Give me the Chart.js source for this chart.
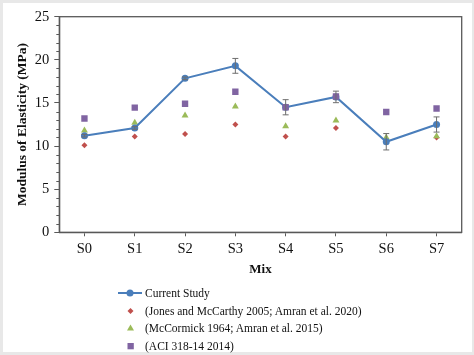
<!DOCTYPE html>
<html>
<head>
<meta charset="utf-8">
<script src="https://cdn.jsdelivr.net/npm/chart.js@4.4.0/dist/chart.umd.min.js"></script>
<style>
  html, body { margin:0; padding:0; background:#e8e8e8; width:474px; height:355px; overflow:hidden; }
  #wrap { position:absolute; left:3px; top:3px; width:469px; height:349px; background:#fff; }
  #c { position:absolute; left:0; top:0; }
  .lg { position:absolute; left:0; top:0; font-family:"Liberation Serif", serif; font-size:11.5px; color:#111; }
  .row { position:absolute; left:0; height:16px; line-height:16px; white-space:nowrap; }
  .row span.t { position:absolute; left:27px; top:0; }
  .ic { position:absolute; }
</style>
</head>
<body>
<div id="wrap">
  <canvas id="c" width="469" height="349"></canvas>
  <div class="lg" id="legend"></div>
</div>
<script>
const categories = ['S0','S1','S2','S3','S4','S5','S6','S7'];
const currentStudy = [11.2, 12.1, 17.85, 19.3, 14.5, 15.7, 10.5, 12.5];
const currentStudyErr = [0.15, 0.15, 0.15, 0.86, 0.88, 0.67, 0.95, 0.88];
const jonesMcCarthy = [10.1, 11.1, 11.4, 12.5, 11.1, 12.1, 10.6, 11.0];
const mcCormick = [11.8, 12.7, 13.55, 14.6, 12.3, 12.95, 11.0, 11.15];
const aci318 = [13.2, 14.45, 14.9, 16.3, 14.5, 15.75, 13.95, 14.35];
const seriesNames = ['Current Study', '(Jones and McCarthy 2005; Amran et al. 2020)', '(McCormick 1964; Amran et al. 2015)', '(ACI 318-14 2014)'];
const yTickValues = [0, 5, 10, 15, 20, 25];

const BLUE = '#4a7ebb', RED = '#c0504d', GREEN = '#9bbb59', PURPLE = '#8064a2', AXIS = '#595959';
const FONT = '"Liberation Serif", serif';

const framePlugin = {
  id: 'frame',
  beforeDatasetsDraw(chart) {
    const {ctx, chartArea: a, scales} = chart;
    ctx.save();
    ctx.strokeStyle = AXIS; ctx.lineWidth = 1.3;
    ctx.strokeRect(a.left, a.top, a.right - a.left, a.bottom - a.top);
    const y = scales.y;
    ctx.lineWidth = 1;
    for (let v = 0; v <= 25; v++) {
      if (v % 5 === 0) continue;
      const py = Math.round(y.getPixelForValue(v)) + 0.5;
      ctx.beginPath(); ctx.moveTo(a.left - 3, py); ctx.lineTo(a.left, py); ctx.stroke();
    }
    ctx.restore();
  },
  afterDatasetsDraw(chart) {
    const {ctx, scales} = chart;
    ctx.save();
    ctx.strokeStyle = '#6e6e6e'; ctx.lineWidth = 1;
    currentStudy.forEach((v, i) => {
      const e = currentStudyErr[i];
      const px = scales.x.getPixelForValue(i);
      const y1 = scales.y.getPixelForValue(v + e), y2 = scales.y.getPixelForValue(v - e);
      ctx.beginPath();
      ctx.moveTo(px, y1); ctx.lineTo(px, y2);
      ctx.moveTo(px - 3, y1); ctx.lineTo(px + 3, y1);
      ctx.moveTo(px - 3, y2); ctx.lineTo(px + 3, y2);
      ctx.stroke();
    });
    ctx.restore();
  }
};

new Chart(document.getElementById('c'), {
  type: 'line',
  data: {
    labels: categories,
    datasets: [
      { label: seriesNames[3], data: aci318, showLine: false, pointStyle: 'rect', pointRadius: 4.5, backgroundColor: PURPLE, borderColor: PURPLE, borderWidth: 0, order: 1 },
      { label: seriesNames[0], data: currentStudy, borderColor: BLUE, backgroundColor: BLUE, borderWidth: 2, pointStyle: 'circle', pointRadius: 3.5, pointBorderWidth: 0, tension: 0, order: 2 },
      { label: seriesNames[2], data: mcCormick, showLine: false, pointStyle: 'triangle', pointRadius: 4, backgroundColor: GREEN, borderColor: GREEN, borderWidth: 0, order: 3 },
      { label: seriesNames[1], data: jonesMcCarthy, showLine: false, pointStyle: 'rectRot', pointRadius: 3, backgroundColor: RED, borderColor: RED, borderWidth: 0, order: 4 }
    ]
  },
  options: {
    responsive: false,
    animation: false,
    devicePixelRatio: 1,
    layout: { padding: { left: 11, right: 10.3, top: 11, bottom: 74.7 } },
    plugins: { legend: { display: false }, tooltip: { enabled: false } },
    scales: {
      x: {
        offset: true,
        grid: { display: true, drawOnChartArea: false, offset: false, tickLength: 4, color: AXIS, tickColor: AXIS },
        border: { display: true, color: AXIS, width: 1.3 },
        ticks: { color: '#111', font: { family: FONT, size: 14.5 }, padding: 4, maxRotation: 0 },
        title: { display: true, text: 'Mix', color: '#111', font: { family: FONT, size: 13, weight: 'bold' }, padding: { top: 2, bottom: 0 } },
        afterFit(s) { s.height = 45; }
      },
      y: {
        min: 0, max: 25,
        afterBuildTicks(s) { s.ticks = yTickValues.map(v => ({ value: v })); },
        grid: { display: true, drawOnChartArea: false, tickLength: 5, color: AXIS, tickColor: AXIS },
        border: { display: true, color: AXIS, width: 1.3 },
        ticks: { color: '#111', font: { family: FONT, size: 14.5 }, padding: 5 },
        title: { display: true, text: 'Modulus of Elasticity (MPa)', color: '#111', font: { family: FONT, size: 13.5, weight: 'bold' }, padding: { top: 0, bottom: 0 } },
        afterFit(s) { s.width = 45.3; }
      }
    }
  },
  plugins: [framePlugin]
});

const lg = document.getElementById('legend');
const rowsTop = [281.5, 299.5, 317, 334.5];
const icons = [
  '<svg class="ic" width="26" height="16" style="left:0;top:0"><line x1="0" y1="8" x2="24" y2="8" stroke="' + BLUE + '" stroke-width="2"/><circle cx="12" cy="8" r="3.5" fill="' + BLUE + '"/></svg>',
  '<svg class="ic" width="26" height="16" style="left:0;top:0"><polygon points="12.5,5 15.5,8 12.5,11 9.5,8" fill="' + RED + '"/></svg>',
  '<svg class="ic" width="26" height="16" style="left:0;top:0"><polygon points="12.5,4.5 16,10.5 9,10.5" fill="' + GREEN + '"/></svg>',
  '<svg class="ic" width="26" height="16" style="left:0;top:0"><rect x="9.5" y="5" width="6.3" height="6.3" fill="' + PURPLE + '"/></svg>'
];
seriesNames.forEach((name, i) => {
  const r = document.createElement('div');
  r.className = 'row';
  r.style.left = '115px';
  r.style.top = rowsTop[i] + 'px';
  r.innerHTML = icons[i] + '<span class="t"></span>';
  r.querySelector('.t').textContent = name;
  lg.appendChild(r);
});
</script>
</body>
</html>
